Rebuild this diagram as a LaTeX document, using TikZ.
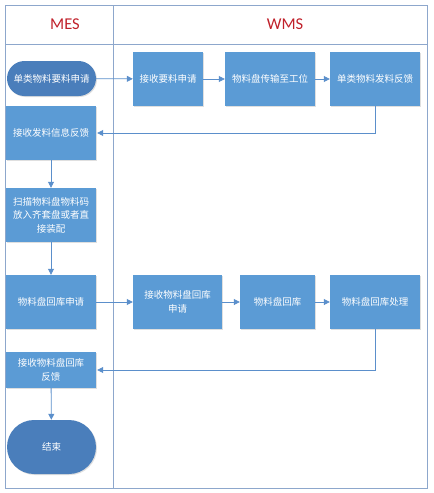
\documentclass[tikz,border=0pt]{standalone}
\usepackage{fontspec}
\setmainfont{Noto Sans CJK SC}
\newfontfamily\headfont{Carlito}
\usetikzlibrary{positioning, calc, arrows.meta, shapes.misc, shadows}

\definecolor{boxblue}{HTML}{5B9BD5}
\definecolor{termblue}{HTML}{4A7EBB}
\definecolor{lineblue}{HTML}{5B8FCB}
\definecolor{framegray}{HTML}{8DA7CC}
\definecolor{headred}{HTML}{C0202A}

\begin{document}
\begin{tikzpicture}[x=1pt, y=-1pt,
  proc/.style={rectangle, fill=boxblue, text=white, minimum width=90pt,
    minimum height=54pt, inner sep=1pt, align=center,
    font=\fontsize{9.5}{13.5}\selectfont,
    drop shadow={shadow xshift=1pt, shadow yshift=-1pt, opacity=0.25}},
  term/.style={proc, rounded rectangle, fill=termblue, minimum width=91pt},
  flow/.style={draw=lineblue, line width=0.8pt,
    -{Triangle[width=6pt,length=6pt]}},
  head/.style={text=headred, font=\headfont\fontsize{16.5}{18}\selectfont}]

  \useasboundingbox (0,0) rectangle (434,493);

  % swimlanes
  \draw[framegray, line width=0.8pt] (5,5) rectangle (427,488);
  \draw[framegray, line width=0.8pt] (5,44) -- (427,44);
  \draw[framegray, line width=0.8pt] (113,5) -- (113,488);
  \node[head] (mes) at (65,24) {MES};
  \node[head] (wms) at (285,24) {WMS};

  % request
  \node[term, minimum height=35pt] (start) at (51.5,78.5) {单类物料要料申请};
  \node[proc, minimum width=70pt] (recv) at (168,79) {接收要料申请};
  \node[proc] (move) at (270,79) {物料盘传输至工位};
  \node[proc] (issue) at (375,79) {单类物料发料反馈};
  \node[proc] (issuefb) at (51,133) {接收发料信息反馈};
  \node[proc] (scan) at (51,215) {扫描物料盘物料码\\放入齐套盘或者直\\接装配};

  % return
  \node[proc] (retreq) at (51,302) {物料盘回库申请};
  \node[proc, minimum width=89pt] (retrecv) at (177.5,302) {接收物料盘回库\\申请};
  \node[proc, minimum width=75pt] (ret) at (277.5,302) {物料盘回库};
  \node[proc] (retproc) at (375,302) {物料盘回库处理};
  \node[proc, minimum height=36pt] (retfb) at (51,370) {接收物料盘回库\\反馈};
  \node[term, minimum height=54pt] (finish) at (51.5,447) {结束};

  \draw[flow] (start) -- (recv);
  \draw[flow] (recv) -- (move);
  \draw[flow] (move) -- (issue);
  \draw[flow, shorten >=1pt] (issue.south) |- (issuefb.east);
  \draw[flow] (issuefb) -- (scan);
  \draw[flow] (scan) -- (retreq);
  \draw[flow] (retreq) -- (retrecv);
  \draw[flow] (retrecv) -- (ret);
  \draw[flow] (ret) -- (retproc);
  \draw[flow, shorten >=1pt] (retproc.south) |- (retfb.east);
  \draw[flow] (retfb) -- (finish);
\end{tikzpicture}
\end{document}
